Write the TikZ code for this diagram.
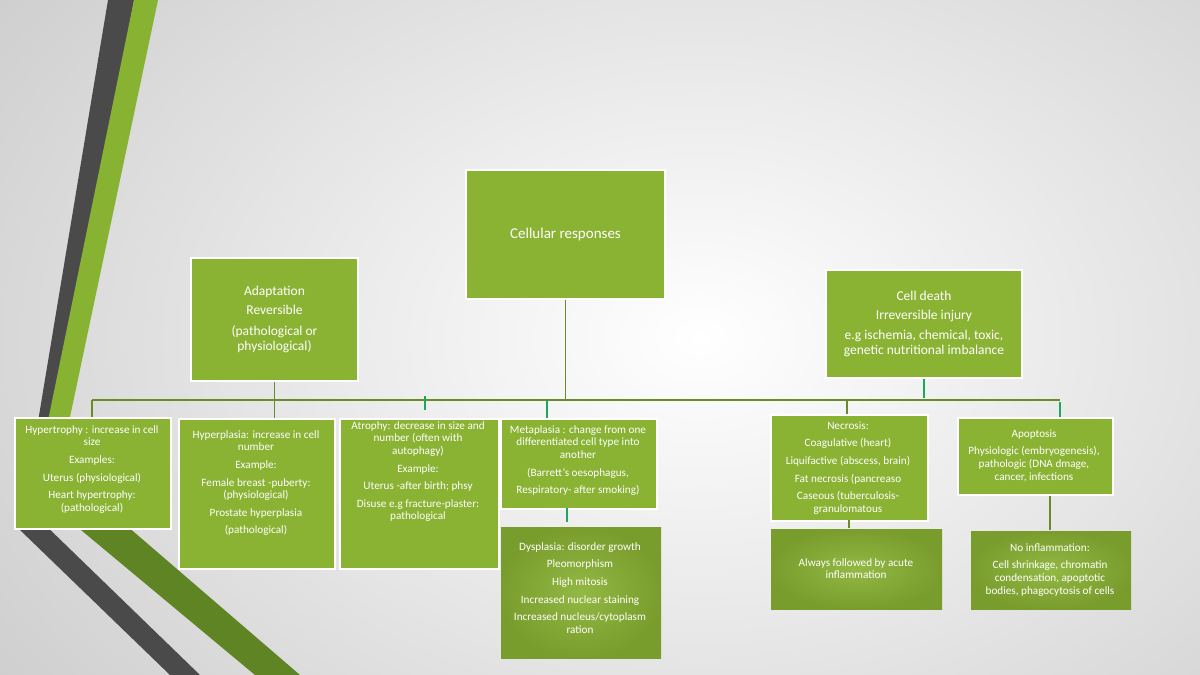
\documentclass[tikz,border=0pt]{standalone}
\usepackage{fontspec}
\setmainfont{Carlito}
\begin{document}
\begin{tikzpicture}[x=1pt,y=-1pt,
  box/.style={draw=white,line width=2pt,fill=boxg,text=white,align=center,inner sep=2pt,anchor=north west,font=\fontsize{10.5}{12}\selectfont},
  gbox/.style={box,draw=none,shading=radial,inner color=boxg!92!white,outer color=boxg!88!black},
  txt/.style={align=center,text=white,font=\fontsize{11.2}{12.6}\selectfont,anchor=north},
  conn/.style={draw=olive2,line width=1.6pt},
  tick/.style={draw=tickg,line width=1.4pt}]
\definecolor{boxg}{HTML}{8AB233}
\definecolor{olive2}{HTML}{6B8A2A}
\definecolor{tickg}{HTML}{1BA85A}
\definecolor{dark}{HTML}{4A4A4A}
\definecolor{strg}{HTML}{88B232}
\definecolor{strg2}{HTML}{5E8424}
\useasboundingbox (0,0) rectangle (1200,675);
\shade[inner color=white,outer color=gray!40] (-200,-300) rectangle (1600,975);
\fill[dark] (108,0) -- (134,0) -- (40,520) -- (200,675) -- (170,675) -- (20,530) -- cycle;
\fill[strg] (134,0) -- (158,0) -- (62,455) -- (64,460) -- (40,460) -- cycle;
\fill[strg2] (62,470) -- (300,675) -- (255,675) -- (45,500) -- cycle;
% nodes
\node[box,minimum width=199pt,minimum height=129pt,font=\fontsize{15}{18}\selectfont,anchor=center] (cr) at (565.5,234.5) {Cellular responses};
\node[box,minimum width=167pt,minimum height=123pt,font=\fontsize{13.5}{19}\selectfont,anchor=center] (ad) at (274.5,319.5) {Adaptation\\Reversible\\[2pt](pathological or\\[-4pt]physiological)};
\node[box,minimum width=196pt,minimum height=108pt,font=\fontsize{13.5}{19}\selectfont,anchor=center] (cd) at (924,324) {Cell death\\Irreversible injury\\[1pt]e.g ischemia, chemical, toxic,\\[-4pt]genetic nutritional imbalance};
\node[box,text width=152pt,minimum height=111pt,anchor=north west] (ht) at (14,417) {};
\node[txt] at (92,422) {Hypertrophy : increase in cell\\size\\[5pt]Examples:\\[5pt]Uterus (physiological)\\[5pt]Heart hypertrophy:\\(pathological)};
\node[box,text width=152pt,minimum height=150pt] (hp) at (178,418) {};
\node[txt] at (256,427) {Hyperplasia: increase in cell\\number\\[5pt]Example:\\[5pt]Female breast -puberty:\\(physiological)\\[5pt]Prostate hyperplasia\\[5pt](pathological)};
\node[box,text width=155pt,minimum height=150pt] (at) at (339,418) {};
\node[txt] at (418,418) {Atrophy: decrease in size and\\number (often with\\autophagy)\\[5pt]Example:\\[5pt]Uterus -after birth; phsy\\[5pt]Disuse e.g fracture-plaster:\\pathological};
\node[box,text width=152pt,minimum height=90pt] (mp) at (500,418) {};
\node[txt] at (578,422) {Metaplasia : change from one\\differentiated cell type into\\another\\[5pt](Barrett's oesophagus,\\[5pt]Respiratory- after smoking)};
\node[gbox,minimum width=160pt,minimum height=131pt] (dy) at (500,526) {};
\node[txt] at (580,539) {Dysplasia: disorder growth\\[5pt]Pleomorphism\\[5pt]High mitosis\\[5pt]Increased nuclear staining\\[5pt]Increased nucleus/cytoplasm\\ration};
\node[box,text width=153pt,minimum height=106pt] (ne) at (770,414) {};
\node[txt] at (848,418) {Necrosis:\\[5pt]Coagulative (heart)\\[5pt]Liquifactive (abscess, brain)\\[5pt]Fat necrosis (pancreaso\\[5pt]Caseous (tuberculosis-\\granulomatous};
\node[box,text width=151pt,minimum height=77pt] (ap) at (957,417) {};
\node[txt] at (1034,426) {Apoptosis\\[5pt]Physiologic (embryogenesis),\\pathologic (DNA dmage,\\cancer, infections};
\node[gbox,minimum width=171pt,minimum height=80pt] (al) at (770,528) {};
\node[txt] at (856,555) {Always followed by acute\\inflammation};
\node[gbox,minimum width=160pt,minimum height=78pt] (ni) at (970,530) {};
\node[txt] at (1050,540) {No inflammation:\\[5pt]Cell shrinkage, chromatin\\condensation, apoptotic\\bodies, phagocytosis of cells};
% connectors
\coordinate (bl) at (92,400); \coordinate (br) at (1060,400);
\draw[conn] (bl) -- (br);
\draw[conn] (bl) -- (ht.north west -| bl);
\draw[conn] (ad.south) -- (ad.south |- hp.north);
\draw[conn] (cr.south) -- (cr.south |- bl);
\draw[conn] (847,400) -- (ne.north -| 847,0);
\draw[tick] (425,396) -- (425,410);
\draw[tick] (547,400) -- (547,418);
\draw[tick] (cd.south) -- (924,398);
\draw[tick] (1060,402) -- (ap.north -| 1060,0);
\draw[tick] (567,508) -- (567,522);
\draw[conn] (849,520) -- (al.north -| 849,0);
\draw[conn] (ap.south -| 1050,0) -- (ni.north -| 1050,0);
\end{tikzpicture}
\end{document}
